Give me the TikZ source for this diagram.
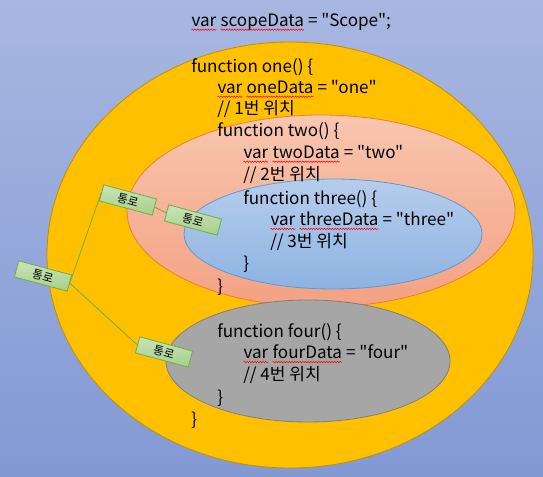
\documentclass[tikz,border=0pt]{standalone}
\usepackage{fontspec}
\setmainfont{Noto Sans CJK KR}[Ligatures=TeXOff]
\usetikzlibrary{decorations.pathmorphing}
\newcommand\rwave[1]{\tikz[baseline=(w.base)]{\node[inner sep=0pt,outer sep=0pt] (w) {#1};
  \draw[red, line width=0.4pt, decorate, decoration={snake, amplitude=0.5pt, segment length=2pt}]
   ([yshift=-2.4pt]w.base west) -- ([yshift=-2.4pt]w.base east);}}
\definecolor{bgtop}{HTML}{A8B7E1}
\definecolor{bgbot}{HTML}{8299D4}
\definecolor{yfill}{HTML}{FFC000}
\definecolor{yline}{HTML}{C09000}
\definecolor{ptop}{HTML}{F8C6AF}
\definecolor{pbot}{HTML}{F4A182}
\definecolor{pline}{HTML}{ED7D31}
\definecolor{btop}{HTML}{B6CDEC}
\definecolor{bbot}{HTML}{8DB3E2}
\definecolor{bline}{HTML}{5B9BD5}
\definecolor{gfill}{HTML}{A6A6A6}
\definecolor{gline}{HTML}{7F7F7F}
\definecolor{lgtop}{HTML}{C9E3B8}
\definecolor{lgbot}{HTML}{A6D08A}
\definecolor{pgreen}{HTML}{70AD47}
\tikzset{
  code/.style={anchor=west, inner sep=0pt, font=\fontsize{12.8}{15}\selectfont, text=black},
  passage/.style={rotate=-15, draw=pgreen, line width=0.6pt, top color=lgtop, bottom color=lgbot,
    minimum width=41pt, minimum height=12.5pt, inner sep=0pt, font=\fontsize{8.6}{9}\selectfont},
  link/.style={draw=pgreen, line width=0.6pt}
}
\begin{document}
\begin{tikzpicture}[x=0.75pt,y=-0.75pt]
\useasboundingbox (0,0) rectangle (543,477);
\shade[top color=bgtop, bottom color=bgbot] (0,0) rectangle (543,477);
% scopes
\draw[yline, fill=yfill, line width=0.6pt] (290,255) ellipse [x radius=243, y radius=213];
\draw[pline, top color=ptop, bottom color=pbot, line width=0.6pt] (321,211) ellipse [x radius=194, y radius=96];
\draw[bline, top color=btop, bottom color=bbot, line width=0.6pt] (333,234) ellipse [x radius=149, y radius=55];
\draw[gline, fill=gfill, line width=0.6pt] (308,361) ellipse [x radius=142, y radius=61];
% code text
\node[code] (l1) at (191,22) {\rwave{var} \rwave{scopeData} = "Scope";};
\node[code] (l2) at (191,67) {function one() \{};
\node[code] (l3) at (217,89) {\rwave{var} \rwave{oneData} = "one"};
\node[code] (l4) at (217,109) {// 1번 위치};
\node[code] (l5) at (217,131) {function two() \{};
\node[code] (l6) at (243,154) {\rwave{var} \rwave{twoData} = "two"};
\node[code] (l7) at (243,175) {// 2번 위치};
\node[code] (l8) at (243,199) {function three() \{};
\node[code] (l9) at (270,221) {\rwave{var} \rwave{threeData} = "three"};
\node[code] (l10) at (270,242) {// 3번 위치};
\node[code] (l11) at (243,264) {\}};
\node[code] (l12) at (217,287) {\}};
\node[code] (l13) at (217,332) {function four() \{};
\node[code] (l14) at (243,354) {\rwave{var} \rwave{fourData} = "four"};
\node[code] (l15) at (243,375) {// 4번 위치};
\node[code] (l16) at (217,398) {\}};
\node[code] (l17) at (191,420) {\}};
% passages
\node[passage] (pa) at (128,200) {통로};
\node[passage] (pb) at (193,220) {통로};
\node[passage] (pc) at (43,276) {통로};
\node[passage] (pd) at (164,352) {통로};
\draw[link] (pc.east) -- (pa.west);
\draw[link] (pc.east) -- (pd.west);
\draw[link] (pa.east) -- (pb.west);
\end{tikzpicture}
\end{document}
